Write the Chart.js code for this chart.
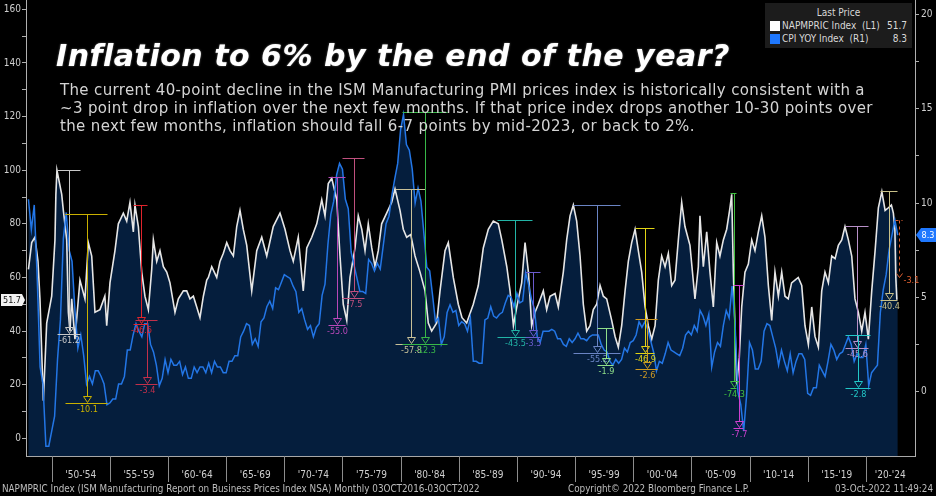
<!DOCTYPE html>
<html>
<head>
<meta charset="utf-8">
<script src="https://cdn.jsdelivr.net/npm/chart.js@4.4.0/dist/chart.umd.min.js"></script>
<style>
  html, body { margin: 0; padding: 0; background: #000; }
  #wrap { position: relative; width: 936px; height: 496px; overflow: hidden; background: #000; }
  #chart { position: absolute; left: 0; top: 0; }
  .title {
    position: absolute; left: 56px; top: 41px; margin: 0;
    font: italic bold 30px/30px "DejaVu Sans", sans-serif; letter-spacing: 0.5px;
    color: #fff; white-space: nowrap; text-shadow: 0 0 2px #777;
  }
  .note {
    position: absolute; left: 60px; top: 82px; margin: 0;
    font: 15px/17.8px "DejaVu Sans", sans-serif; letter-spacing: 0.35px;
    color: #d4d4d4; white-space: nowrap;
  }
  .legend {
    position: absolute; left: 765px; top: 3px; width: 147px; height: 45px;
    background: #1c1c1c; color: #d8d8d8;
    font: 10px/13px "DejaVu Sans Condensed", "DejaVu Sans", sans-serif;
  }
  .legend .head { text-align: center; margin-top: 3px; }
  .legend .row { position: relative; height: 13px; white-space: nowrap; }
  .legend .sw { position: absolute; left: 5px; top: 2px; width: 10px; height: 10px; }
  .legend .nm { position: absolute; left: 17px; top: 0; }
  .legend .val { position: absolute; right: 5px; top: 0; }
  .foot {
    position: absolute; top: 483px; white-space: nowrap; color: #bdbdbd;
    font: 9.8px/12px "DejaVu Sans Condensed", "DejaVu Sans", sans-serif;
  }
</style>
</head>
<body>
<div id="wrap">
  <canvas id="chart" width="936" height="496"></canvas>
  <div class="title">Inflation to 6% by the end of the year?</div>
  <div class="note">The current 40-point decline in the ISM Manufacturing PMI prices index is historically consistent with a<br>~3 point drop in inflation over the next few months. If that price index drops another 10-30 points over<br>the next few months, inflation should fall 6-7 points by mid-2023, or back to 2%.</div>
  <div class="legend">
    <div class="head">Last Price</div>
    <div class="row"><span class="sw" style="background:#fff"></span><span class="nm">NAPMPRIC Index&nbsp;&nbsp;(L1)</span><span class="val" id="lastNapm"></span></div>
    <div class="row"><span class="sw" style="background:#1f78ff"></span><span class="nm">CPI YOY Index&nbsp;&nbsp;(R1)</span><span class="val" id="lastCpi"></span></div>
  </div>
  <div class="foot" style="left:2px">NAPMPRIC Index (ISM Manufacturing Report on Business Prices Index NSA) Monthly 03OCT2016-03OCT2022</div>
  <div class="foot" style="left:568px">Copyright© 2022 Bloomberg Finance L.P.</div>
  <div class="foot" style="right:3px">03-Oct-2022 11:49:24</div>
</div>
<script>
// ISM prices paid (left axis)
const napmDates = [
  1948.0, 1948.28, 1948.56, 1948.82, 1948.99, 1949.28, 1949.57, 1950.0, 1950.28, 1950.36, 1950.45, 1950.86,
  1951.0, 1951.29, 1951.43, 1951.57, 1951.72, 1952.0, 1952.43, 1952.86, 1953.15, 1953.44, 1953.72,
  1954.15, 1954.57, 1954.73, 1955.01, 1955.44, 1955.73, 1956.16, 1956.45, 1956.73, 1957.02, 1957.16, 1957.45, 1957.74,
  1958.02, 1958.31, 1958.6, 1958.74, 1959.03, 1959.31, 1959.6, 1959.89, 1960.17, 1960.6, 1960.89,
  1961.32, 1961.61, 1961.89, 1962.18, 1962.47, 1962.75, 1963.04, 1963.33, 1963.47, 1963.76,
  1964.19, 1964.47, 1964.76, 1965.05, 1965.33, 1965.62, 1965.91, 1966.19, 1966.47, 1966.77,
  1967.2, 1967.63, 1968.06, 1968.49, 1969.05, 1969.63, 1970.06, 1970.49, 1970.77,
  1971.2, 1971.63, 1971.93, 1972.36, 1972.79, 1973.22, 1973.5, 1973.78, 1974.08, 1974.51, 1974.79,
  1975.07, 1975.37, 1975.65, 1976.08, 1976.36, 1976.66, 1976.94, 1977.22, 1977.52, 1977.8,
  1978.08, 1978.37, 1978.8, 1979.23, 1979.52, 1979.95, 1980.23, 1980.52, 1980.87,
  1981.24, 1981.67, 1982.1, 1982.38, 1982.67, 1983.1, 1983.39, 1983.82, 1984.1, 1984.53, 1984.96,
  1985.28, 1985.68, 1986.25, 1986.68, 1987.11, 1987.54, 1987.97, 1988.4, 1988.7,
  1989.13, 1989.41, 1989.7, 1989.99, 1990.41, 1990.7, 1990.99, 1991.27, 1991.56, 1991.84,
  1992.27, 1992.56, 1992.85, 1993.28, 1993.56, 1993.99, 1994.28, 1994.57, 1994.85,
  1995.14, 1995.43, 1995.71, 1996.0, 1996.29, 1996.57, 1996.86, 1997.15, 1997.43, 1997.72,
  1998.15, 1998.44, 1998.72, 1999.01, 1999.3, 1999.58, 1999.87, 2000.16, 2000.44, 2000.73,
  2001.02, 2001.3, 2001.59, 2001.88, 2002.16, 2002.45, 2002.74, 2003.02, 2003.31, 2003.59, 2003.88,
  2004.17, 2004.45, 2004.88, 2005.31, 2005.6, 2005.74, 2006.03, 2006.32, 2006.6, 2006.89,
  2007.18, 2007.46, 2007.75, 2008.04, 2008.32, 2008.47, 2008.61, 2008.9, 2009.12, 2009.33, 2009.61, 2009.9,
  2010.19, 2010.47, 2010.76, 2011.05, 2011.33, 2011.62, 2011.91, 2012.19, 2012.48, 2012.77,
  2013.05, 2013.33, 2013.62, 2013.91, 2014.19, 2014.49, 2014.77, 2015.06, 2015.35, 2015.63, 2015.92,
  2016.21, 2016.49, 2016.78, 2017.07, 2017.36, 2017.64, 2017.93, 2018.21, 2018.5, 2018.79,
  2019.07, 2019.36, 2019.65, 2019.93, 2020.22, 2020.51, 2020.8, 2021.08, 2021.38, 2021.66, 2021.94,
  2022.2, 2022.37, 2022.5, 2022.58, 2022.67
];
const napmValues = [
  63, 73, 75, 66, 52, 14, 43, 53, 74, 91, 100, 91,
  85, 74, 47, 40, 52, 37, 59, 52, 73, 68, 47,
  48, 53, 42, 58, 70, 80, 84, 81, 88, 77, 87, 79, 62,
  53, 48, 63, 74, 66, 70, 64, 62, 58, 47, 52,
  55, 55, 52, 53, 49, 45, 53, 59, 60, 64,
  60, 66, 69, 73, 70, 68, 79, 85, 78, 72,
  55, 70, 75, 68, 79, 84, 78, 70, 66,
  75, 55, 71, 75, 80, 89, 83, 95, 97, 89, 68,
  50, 44, 60, 71, 83, 78, 70, 80, 71, 64,
  70, 80, 84, 88, 93, 85, 78, 75, 76,
  68, 62, 55, 43, 40, 43, 55, 70, 73, 60, 50,
  45, 43, 50, 57, 71, 78, 81, 80, 74,
  64, 55, 42, 49, 58, 73, 62, 42, 47, 50,
  55, 48, 53, 54, 49, 62, 74, 83, 87,
  81, 68, 50, 40, 42, 48, 50, 57, 53, 52,
  44, 38, 34, 42, 55, 66, 73, 78, 70, 62,
  49, 42, 37, 42, 59, 68, 64, 69, 57, 59, 74,
  88, 79, 72, 52, 64, 83, 64, 77, 62, 49,
  73, 68, 74, 78, 86, 91, 62, 20, 30, 49, 62, 65,
  74, 70, 77, 83, 75, 57, 44, 62, 53, 62,
  53, 52, 58, 59, 60, 57, 42, 35, 49, 38, 34,
  55, 62, 58, 68, 67, 72, 74, 79, 74, 68,
  52, 47, 40, 47, 37, 55, 70, 86, 92, 85, 86,
  87, 84, 78, 60, 51.7
];

// CPI YoY (right axis), one value per quarter (Jan, Apr, Jul, Oct) from 1948
const cpiStartYear = 1948;
const cpiValues = [
  10.2, 8.6, 9.9, 6.1,   1.3, 0.4, -2.9, -2.9,  -2.1, -1.3, 1.7, 3.8,   8.1, 9.5, 7.5, 6.9,
  4.3, 2.3, 3.0, 1.9,    0.4, 0.8, 0.4, 1.1,    1.1, 0.8, 0.4, -0.7,   -0.6, -0.4, -0.4, 0.4,
  0.4, 0.8, 2.2, 2.2,    3.0, 3.6, 3.2, 2.9,    3.6, 3.6, 2.5, 2.1,    1.4, 0.3, 0.7, 1.7,
  1.0, 1.7, 1.4, 1.4,    1.6, 0.9, 1.3, 0.7,    0.7, 1.3, 1.0, 1.3,    1.3, 1.0, 1.5, 1.0,
  1.6, 1.3, 1.3, 1.0,    1.0, 1.6, 1.6, 1.9,    1.9, 2.9, 3.2, 3.6,    3.5, 2.5, 2.8, 2.4,
  3.7, 3.9, 4.5, 4.8,    4.4, 5.5, 5.4, 5.8,    6.2, 6.1, 6.0, 5.6,    5.3, 4.2, 4.4, 3.8,
  3.3, 3.5, 2.9, 3.4,    3.6, 5.1, 5.7, 7.8,    9.4, 10.1, 11.5, 12.1, 11.8, 10.2, 9.7, 7.4,
  6.7, 6.0, 5.3, 5.3,    5.2, 7.0, 6.8, 6.4,    6.8, 6.5, 7.7, 8.9,    9.3, 10.4, 11.3, 12.1,
  13.9, 14.7, 13.1, 12.8, 11.8, 10.0, 10.8, 10.1, 8.4, 6.6, 6.4, 5.1,  3.7, 3.9, 2.5, 2.9,
  4.2, 4.6, 4.2, 4.3,    3.5, 3.7, 3.6, 3.2,    3.9, 1.6, 1.6, 1.5,    1.5, 3.8, 3.9, 4.5,
  4.0, 3.9, 4.1, 4.2,    4.7, 5.1, 5.0, 4.5,    5.2, 4.7, 4.8, 6.3,    5.7, 4.9, 4.4, 2.9,
  2.6, 3.2, 3.2, 3.2,    3.3, 3.2, 2.8, 2.8,    2.5, 2.4, 2.8, 2.6,    2.8, 3.1, 2.8, 2.8,
  2.7, 2.9, 3.0, 3.0,    3.0, 2.5, 2.2, 2.1,    1.6, 1.4, 1.7, 1.5,    1.7, 2.3, 2.1, 2.6,
  2.7, 3.0, 3.7, 3.4,    3.7, 3.3, 2.7, 2.1,    1.1, 1.6, 1.5, 2.0,    2.6, 2.2, 2.1, 2.0,
  1.9, 2.3, 3.0, 3.2,    3.0, 3.5, 3.2, 4.3,    4.0, 3.5, 4.1, 1.3,    2.1, 2.6, 2.4, 3.5,
  4.3, 3.9, 5.6, 3.7,    0.0, -0.7, -2.1, -0.2, 2.6, 2.2, 1.2, 1.2,    1.6, 3.2, 3.6, 3.5,
  2.9, 2.3, 1.4, 2.2,    1.6, 1.1, 2.0, 1.0,    1.6, 2.0, 2.0, 1.7,    -0.1, -0.2, 0.2, 0.2,
  1.4, 1.1, 0.8, 1.6,    2.5, 2.2, 1.7, 2.0,    2.1, 2.5, 2.9, 2.5,    1.6, 2.0, 1.8, 1.8,
  2.5, 0.3, 1.0, 1.2,    1.4, 4.2, 5.4, 6.2,    7.5, 8.3, 9.1, 8.3
];

// x axis: five-year blocks
const blockStarts = [1950, 1955, 1960, 1965, 1970, 1975, 1980, 1985, 1990, 1995, 2000, 2005, 2010, 2015, 2020];
const blockLabelAt = [1952.5, 1957.5, 1962.5, 1967.5, 1972.5, 1977.5, 1982.5, 1987.5, 1992.5, 1997.5, 2002.5, 2007.5, 2012.5, 2017.5, 2022.1];
const blockLabels = ["'50-'54", "'55-'59", "'60-'64", "'65-'69", "'70-'74", "'75-'79", "'80-'84", "'85-'89",
  "'90-'94", "'95-'99", "'00-'04", "'05-'09", "'10-'14", "'15-'19", "'20-'24"];

const leftTicks = [0, 10, 20, 30, 40, 50, 60, 70, 80, 90, 100, 110, 120, 130, 140, 150, 160];
const leftLabels = [0, 20, 40, 60, 80, 100, 120, 140, 160];
const rightTicks = [0, 2.5, 5, 7.5, 10, 12.5, 15, 17.5, 20];
const rightLabels = [0, 5, 10, 15, 20];

// high-to-low drop markers
const annAxis  = ['yL', 'yR', 'yL', 'yR', 'yL', 'yR', 'yL', 'yR', 'yL', 'yR', 'yL', 'yR', 'yL', 'yR', 'yL', 'yR', 'yL', 'yR', 'yL', 'yR'];
const annStart = [1950.46, 1951.14, 1956.99, 1957.16, 1973.76, 1974.93, 1979.52, 1980.09, 1988.26, 1990.7,
  1994.82, 1996.86, 2000.16, 2000.16, 2008.3, 2008.58, 2018.21, 2018.21, 2021.22, 2022.5];
const annEnd   = [1952.43, 1954.76, 1958.19, 1959.05, 1975.22, 1976.85, 1982.1, 1983.96, 1991.27, 1991.99,
  1998.86, 1998.27, 2001.79, 2002.03, 2008.8, 2009.44, 2020.19, 2020.36, 2022.66, 2023.1];
const annHigh  = [100, 9.42, 87.2, 3.79, 97.6, 12.37, 93, 14.84, 81.4, 6.36, 87, 3.35, 78.6, 3.83, 91.6, 5.65, 79.2, 3.0, 92.1, 9.1];
const annLow   = [38.8, -0.63, 42.5, 0.38, 42.3, 4.94, 35.2, 2.5, 37.9, 2.9, 31.9, 1.41, 31.7, 1.18, 18.7, -1.95, 33.6, 0.17, 51.7, 6.0];
const annLabel = ['-61.2', '-10.1', '-46.6', '-3.4', '-55.0', '-7.5', '-57.8', '-12.3', '-43.5', '-3.5',
  '-55.2', '-1.9', '-46.9', '-2.6', '-74.3', '-7.7', '-45.6', '-2.8', '-40.4', '-3.1'];
const annColor = ['#c8c8c8', '#c9b000', '#e0242c', '#c2304a', '#b848b8', '#c0507e', '#c8c098', '#38b848', '#22b4a6', '#6a5acd',
  '#6a84c4', '#90e08a', '#e2d414', '#d09a22', '#40c040', '#d040d0', '#b890c8', '#22c8c8', '#c8c088', '#e06030'];
const annDashed = [false, false, false, false, false, false, false, false, false, false,
  false, false, false, false, false, false, false, false, false, true];

const X_MIN = 1947.79, X_MAX = 2024.23;
const NAVY = '#051e3d';
const AXIS_FONT = { family: '"DejaVu Sans Condensed", "DejaVu Sans", sans-serif', size: 10 };
const TEXT_COL = '#cfcfcf';

const lastNapm = napmValues[napmValues.length - 1];
const lastCpi = cpiValues[cpiValues.length - 1];
document.getElementById('lastNapm').textContent = lastNapm.toFixed(1);
document.getElementById('lastCpi').textContent = lastCpi.toFixed(1);

const napmPoints = napmDates.map((d, i) => ({ x: d, y: napmValues[i] }));
const cpiPoints = cpiValues.map((v, i) => ({ x: cpiStartYear + i * 0.25, y: v }));

function drawMarkers(chart) {
  const { ctx, scales } = chart;
  const x = scales.x;
  ctx.save();
  ctx.lineWidth = 1;
  ctx.font = '9px "DejaVu Sans Condensed", "DejaVu Sans", sans-serif';
  for (let i = 0; i < annLabel.length; i++) {
    const ys = scales[annAxis[i]];
    const x1 = Math.round(x.getPixelForValue(annStart[i])) + 0.5;
    const x2 = Math.round(x.getPixelForValue(annEnd[i])) + 0.5;
    const xm = Math.round((x1 + x2) / 2) + 0.5;
    const yTop = Math.round(ys.getPixelForValue(annHigh[i])) + 0.5;
    const yBot = Math.round(ys.getPixelForValue(annLow[i])) + 0.5;
    ctx.strokeStyle = annColor[i];
    ctx.fillStyle = annColor[i];
    ctx.setLineDash(annDashed[i] ? [3, 3] : []);
    ctx.beginPath();
    ctx.moveTo(x1, yTop); ctx.lineTo(x2, yTop);
    ctx.moveTo(xm, yTop); ctx.lineTo(xm, yBot - 7);
    ctx.stroke();
    ctx.setLineDash([]);
    if (annDashed[i]) {
      ctx.beginPath();
      ctx.moveTo(xm - 3, yBot - 5); ctx.lineTo(xm, yBot - 1); ctx.lineTo(xm + 3, yBot - 5);
      ctx.stroke();
      ctx.textAlign = 'left';
      ctx.textBaseline = 'middle';
      ctx.fillText(annLabel[i], xm + 4, yBot + 2);
      continue;
    }
    ctx.beginPath();
    ctx.moveTo(x1, yBot); ctx.lineTo(x2, yBot);
    ctx.moveTo(xm - 4, yBot - 7); ctx.lineTo(xm + 4, yBot - 7); ctx.lineTo(xm, yBot - 1); ctx.closePath();
    ctx.stroke();
    ctx.textAlign = 'center';
    ctx.textBaseline = 'top';
    ctx.fillText(annLabel[i], xm, yBot + 2);
  }
  ctx.restore();
}

function drawFrame(chart) {
  const { ctx, chartArea, scales } = chart;
  ctx.save();
  // block separators under the plot
  ctx.strokeStyle = '#8c8c8c';
  ctx.lineWidth = 1;
  blockStarts.forEach(yr => {
    const px = Math.round(scales.x.getPixelForValue(yr)) + 0.5;
    ctx.beginPath();
    ctx.moveTo(px, chartArea.bottom);
    ctx.lineTo(px, chartArea.bottom + 26);
    ctx.stroke();
  });
  // last value tags
  ctx.font = '9px "DejaVu Sans Condensed", "DejaVu Sans", sans-serif';
  ctx.textBaseline = 'middle';
  ctx.textAlign = 'center';
  const yl = Math.round(scales.yL.getPixelForValue(lastNapm));
  ctx.fillStyle = '#f2f2f2';
  ctx.beginPath();
  ctx.moveTo(1, yl - 6); ctx.lineTo(22, yl - 6); ctx.lineTo(25, yl); ctx.lineTo(22, yl + 6); ctx.lineTo(1, yl + 6);
  ctx.closePath(); ctx.fill();
  ctx.fillStyle = '#111';
  ctx.fillText(lastNapm.toFixed(1), 12, yl + 0.5);
  const yr = Math.round(scales.yR.getPixelForValue(lastCpi));
  const rx = chartArea.right;
  ctx.fillStyle = '#1f78ff';
  ctx.beginPath();
  ctx.moveTo(rx + 1, yr); ctx.lineTo(rx + 6, yr - 7); ctx.lineTo(936, yr - 7); ctx.lineTo(936, yr + 7); ctx.lineTo(rx + 6, yr + 7);
  ctx.closePath(); ctx.fill();
  ctx.fillStyle = '#fff';
  ctx.fillText(lastCpi.toFixed(1), rx + 13, yr + 0.5);
  ctx.restore();
}

const frame = {
  id: 'frame',
  afterDatasetsDraw(chart) { drawMarkers(chart); },
  afterDraw(chart) { drawFrame(chart); }
};

function sideAxis(width) {
  return (axis) => {
    axis.width = width;
    axis.paddingTop = 0;
    axis.paddingBottom = 0;
  };
}

new Chart(document.getElementById('chart'), {
  type: 'line',
  data: {
    datasets: [
      {
        label: 'CPI YOY Index (R1)',
        data: cpiPoints,
        yAxisID: 'yR',
        borderColor: '#2376e6',
        borderWidth: 1.5,
        backgroundColor: NAVY,
        fill: 'start',
        pointRadius: 0,
        tension: 0,
        order: 0
      },
      {
        label: 'NAPMPRIC Index (L1)',
        data: napmPoints,
        yAxisID: 'yL',
        borderColor: '#e6e6e6',
        borderWidth: 1.6,
        backgroundColor: NAVY,
        fill: 'start',
        pointRadius: 0,
        tension: 0,
        order: 1
      }
    ]
  },
  plugins: [frame],
  options: {
    responsive: false,
    animation: false,
    layout: { padding: 0 },
    plugins: {
      legend: { display: false },
      tooltip: { enabled: false },
      filler: { drawTime: 'beforeDatasetsDraw' }
    },
    scales: {
      x: {
        type: 'linear',
        min: X_MIN,
        max: X_MAX,
        afterBuildTicks: (axis) => { axis.ticks = blockLabelAt.map(v => ({ value: v })); },
        afterFit: (axis) => { axis.height = 40; axis.paddingLeft = 0; axis.paddingRight = 0; },
        ticks: {
          autoSkip: false, maxRotation: 0, padding: 13,
          color: TEXT_COL, font: AXIS_FONT,
          callback: (v, i) => blockLabels[i]
        },
        grid: { display: false, drawTicks: false },
        border: { display: true, color: '#a8a8a8' }
      },
      yL: {
        position: 'left',
        min: -6.6,
        max: 163.5,
        afterBuildTicks: (axis) => { axis.ticks = leftTicks.map(v => ({ value: v })); },
        afterFit: sideAxis(26),
        ticks: {
          padding: 1, color: TEXT_COL, font: AXIS_FONT,
          callback: (v) => leftLabels.includes(v) ? String(v) : ''
        },
        grid: { drawOnChartArea: false, tickLength: 4, color: '#b0b0b0' },
        border: { display: true, color: '#b0b0b0' }
      },
      yR: {
        position: 'right',
        min: -3.42,
        max: 20.77,
        afterBuildTicks: (axis) => { axis.ticks = rightTicks.map(v => ({ value: v })); },
        afterFit: sideAxis(21),
        ticks: {
          padding: 2, color: TEXT_COL, font: AXIS_FONT,
          callback: (v) => rightLabels.includes(v) ? String(v) : ''
        },
        grid: { drawOnChartArea: false, tickLength: 4, color: '#b0b0b0' },
        border: { display: true, color: '#b0b0b0' }
      }
    }
  }
});
</script>
</body>
</html>
